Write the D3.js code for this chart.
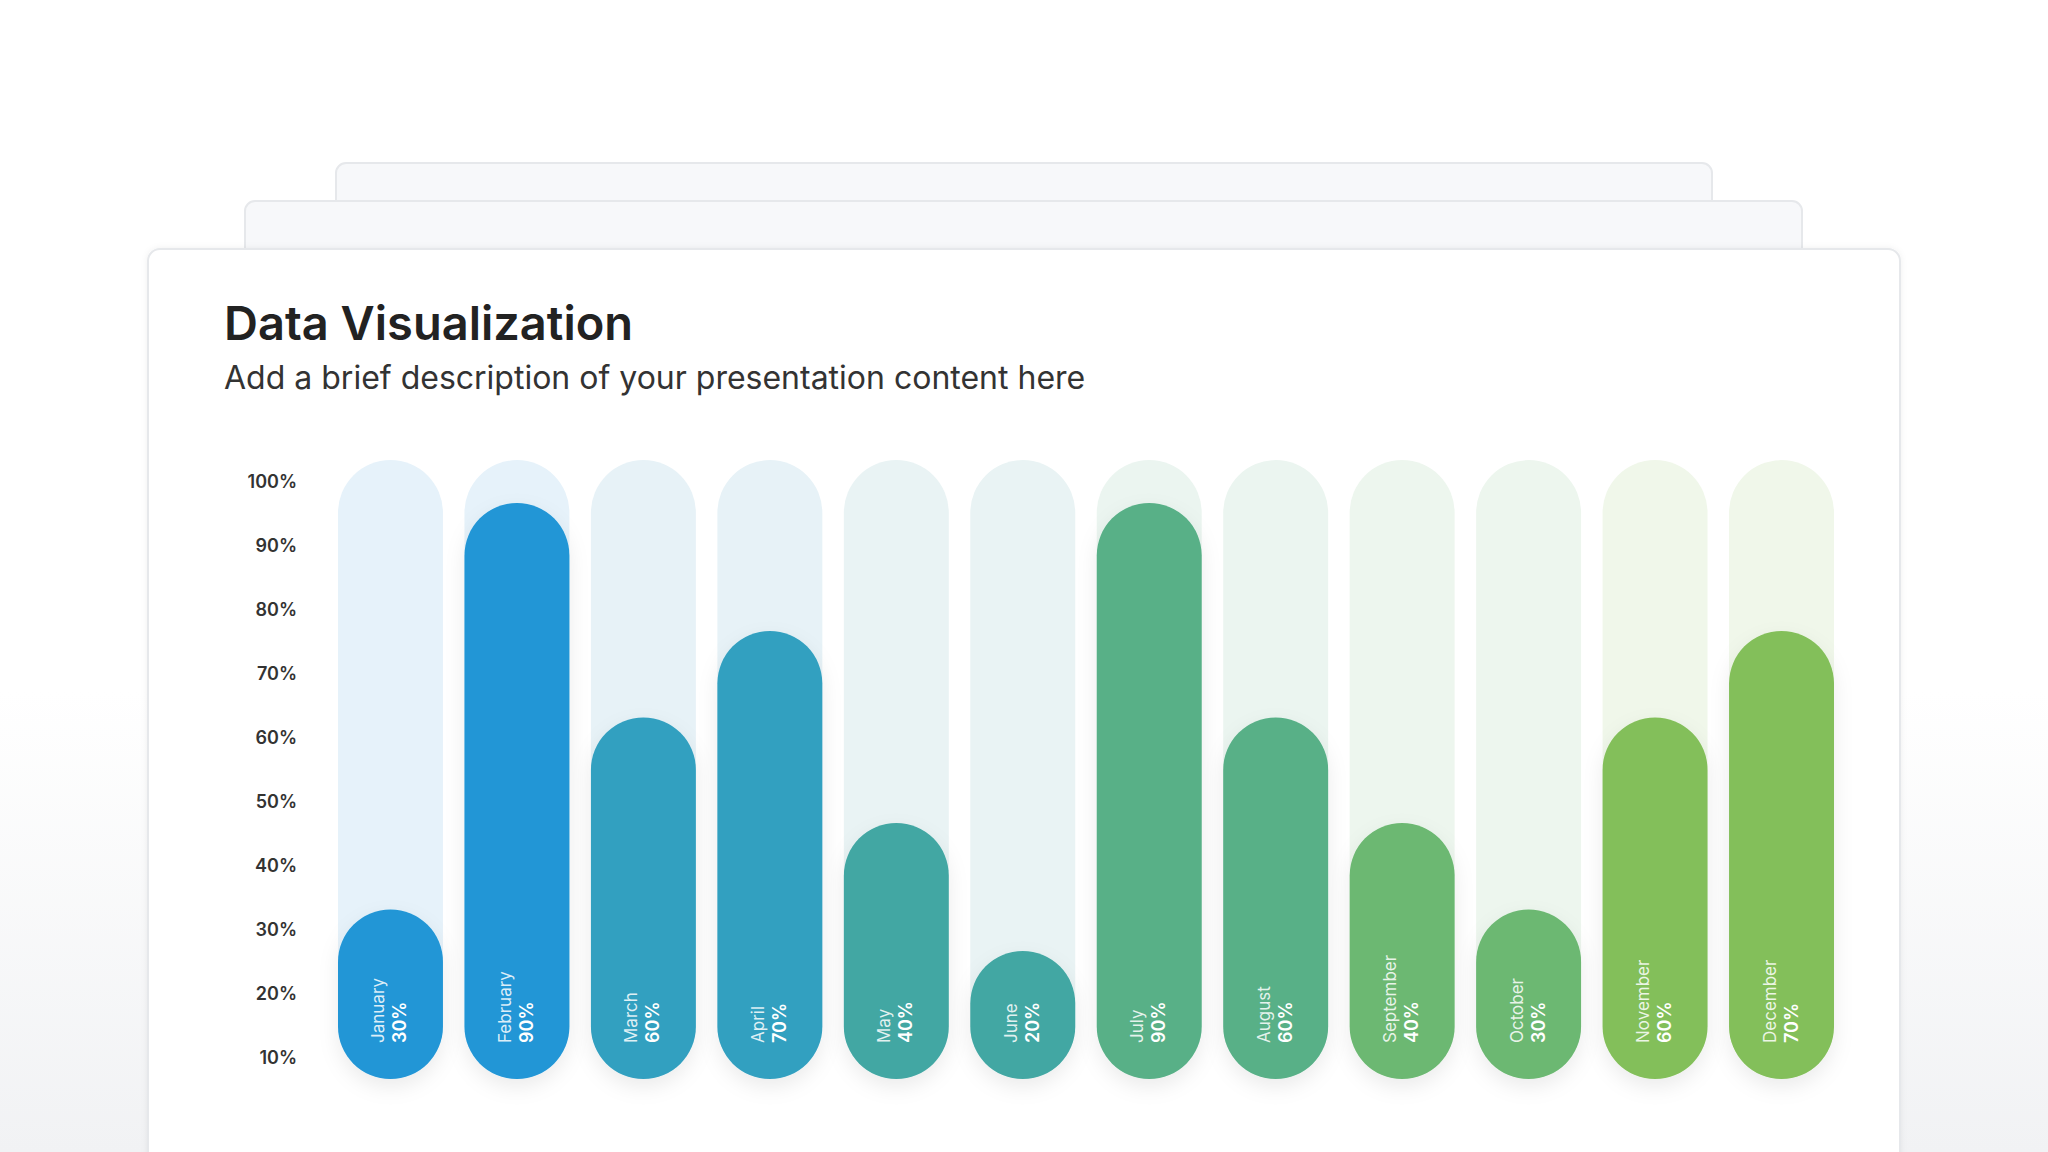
<!DOCTYPE html>
<html><head><meta charset="utf-8">
<script src="https://cdn.jsdelivr.net/npm/d3@7"></script>
<style>html,body{margin:0;padding:0;background:#fff;}svg{display:block;}</style>
</head><body>
<script>
const months = ["January","February","March","April","May","June","July","August","September","October","November","December"];
const labels = ["30%","90%","60%","70%","40%","20%","90%","60%","40%","30%","60%","70%"];
const heights = [26.5,90,56.5,70,40,20,90,56.5,40,26.5,56.5,70];
const barColors = ["#2196d6","#2196d6","#33a0c0","#33a0c0","#42a7a3","#42a7a3","#58b087","#58b087","#6cb872","#6cb872","#83bf5a","#83bf5a"];
const trackColors = ["#e6f2fa","#e6f2fa","#e7f2f7","#e7f2f7","#e9f3f4","#e9f3f4","#ebf5f0","#ebf5f0","#edf6ee","#edf6ee","#f0f7ea","#f0f7ea"];
const tickValues = [10,20,30,40,50,60,70,80,90,100];
const trackMax = 96.7;

const W=2048,H=1152;
const svg=d3.select("body").append("svg").attr("width",W).attr("height",H);
const defs=svg.append("defs");
const bg=defs.append("linearGradient").attr("id","bg").attr("x1",0).attr("x2",0).attr("y1",0).attr("y2",1);
bg.append("stop").attr("offset","0.6").attr("stop-color","#ffffff");
bg.append("stop").attr("offset","1").attr("stop-color","#f1f2f4");
svg.append("rect").attr("width",W).attr("height",H).attr("fill","url(#bg)");
const sh=defs.append("filter").attr("id","sh").attr("x","-30%").attr("y","-30%").attr("width","160%").attr("height","160%");
sh.append("feDropShadow").attr("dx",0).attr("dy",8).attr("stdDeviation",10).attr("flood-color","#000").attr("flood-opacity",0.08);
const csh=defs.append("filter").attr("id","csh").attr("x","-5%").attr("y","-5%").attr("width","110%").attr("height","110%");
csh.append("feDropShadow").attr("dx",0).attr("dy",0).attr("stdDeviation",3).attr("flood-color","#000").attr("flood-opacity",0.06);

// stacked cards
svg.append("rect").attr("x",336).attr("y",163).attr("width",1376).attr("height",1100).attr("rx",10).attr("fill","#f7f8fa").attr("stroke","#e6e8eb").attr("stroke-width",2);
svg.append("rect").attr("x",245).attr("y",201).attr("width",1557).attr("height",1100).attr("rx",10).attr("fill","#f7f8fa").attr("stroke","#e6e8eb").attr("stroke-width",2);
svg.append("rect").attr("x",148).attr("y",249).attr("width",1752).attr("height",1100).attr("rx",12).attr("fill","#fff").attr("stroke","#e6e8eb").attr("stroke-width",2).attr("filter","url(#csh)");

svg.append("text").attr("x",224).attr("y",340).attr("font-family","Inter").attr("font-size",47).attr("font-weight",600).attr("fill","#222").text("Data Visualization");
svg.append("text").attr("x",224).attr("y",389).attr("font-family","Inter").attr("font-size",32).attr("fill","#333").text("Add a brief description of your presentation content here");

const x=d3.scaleBand().domain(months).range([338,1834]).paddingInner(0.17).paddingOuter(0);
const y=d3.scaleLinear().domain([0,100]).range([1079,439]);
const ya=d3.scaleLinear().domain([10,100]).range([1058,482]);
const bw=x.bandwidth();

const axis=d3.axisLeft(ya).tickValues(tickValues).tickFormat(d=>d+"%").tickSize(0).tickPadding(0);
const ag=svg.append("g").attr("transform","translate(297,0)").call(axis);
ag.select(".domain").remove();
ag.selectAll("text").attr("font-family","Inter").attr("font-size",18).attr("font-weight",600).attr("fill","#333");

const g=svg.selectAll("g.bar").data(months).enter().append("g").attr("class","bar");
g.append("rect").attr("x",d=>x(d)).attr("width",bw).attr("y",y(trackMax)).attr("height",y(0)-y(trackMax)).attr("rx",bw/2).attr("fill",(d,i)=>trackColors[i]);
g.append("rect").attr("x",d=>x(d)).attr("width",bw).attr("y",(d,i)=>y(heights[i])).attr("height",(d,i)=>y(0)-y(heights[i])).attr("rx",bw/2).attr("fill",(d,i)=>barColors[i]).attr("filter","url(#sh)");
g.append("text").attr("transform",d=>`translate(${x(d)+bw/2-6},1043) rotate(-90)`).attr("font-family","Inter").attr("font-size",17).attr("fill","#fff").attr("fill-opacity",0.85).text(d=>d);
g.append("text").attr("transform",d=>`translate(${x(d)+bw/2+16},1043) rotate(-90)`).attr("font-family","Inter").attr("font-size",18).attr("font-weight",600).attr("fill","#fff").text((d,i)=>labels[i]);
</script>
</body></html>
